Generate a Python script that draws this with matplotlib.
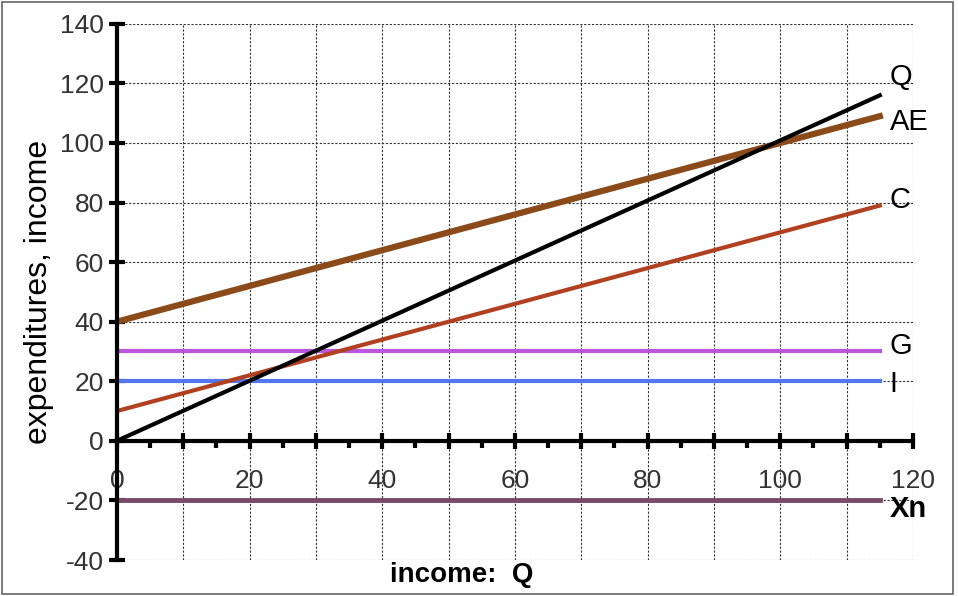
import matplotlib
matplotlib.use("Agg")
import matplotlib.pyplot as plt
import numpy as np

plt.rcParams["font.family"] = ["Liberation Sans", "DejaVu Sans"]
plt.rcParams["axes.unicode_minus"] = False

x = np.array([0, 115])
Q = np.array([0, 116])
AE = np.array([40, 109])
C = np.array([10, 79])
G = np.array([30, 30])
I = np.array([20, 20])
Xn = np.array([-20, -20])
labels = ["Q", "AE", "C", "G", "I", "Xn"]
label_y = [122, 107, 81, 32, 19, -23]

fig = plt.figure(figsize=(9.58, 5.96), dpi=100)
ax = fig.add_axes([0.122, 0.0604, 0.831, 0.8996])
ax.set_xlim(0, 120)
ax.set_ylim(-40, 140)

ax.set_xticks(np.arange(0, 121, 10), minor=False)
ax.set_yticks(np.arange(-40, 141, 20))
ax.grid(True, color="#333333", linestyle=(0, (2, 1.5)), linewidth=0.8)
ax.set_axisbelow(True)

for s in ["top", "right"]:
    ax.spines[s].set_visible(False)
ax.spines["left"].set_linewidth(3)
ax.spines["bottom"].set_position(("data", 0))
ax.spines["bottom"].set_linewidth(3)
ax.tick_params(axis="x", direction="inout", length=12, width=3, labelsize=19, pad=14, colors="black", labelcolor="#333333")
ax.tick_params(axis="y", direction="inout", length=12, width=3, labelsize=19, labelcolor="#333333")
ax.set_xticklabels(["0", "", "20", "", "40", "", "60", "", "80", "", "100", "", "120"])
ax.set_xticks(np.arange(5, 120, 10), minor=True)
ax.tick_params(axis="x", which="minor", direction="out", length=5, width=3)

ax.plot(x, Xn, color="#7a4a6a", lw=3.5)
ax.plot(x, I, color="#5577ee", lw=3)
ax.plot(x, G, color="#bb55dd", lw=3)
ax.plot(x, C, color="#b04020", lw=3)
ax.plot(x, AE, color="#8b4a1a", lw=4.5)
ax.plot(x, Q, color="black", lw=3)

for t, yy in zip(labels, label_y):
    ax.text(116.5, yy, t, fontsize=21, va="center", ha="left", fontweight="bold" if t == "Xn" else "normal")

ax.text(52, -45, "income:  Q", fontsize=20, fontweight="bold", ha="center", va="center", clip_on=False)
ax.set_ylabel("expenditures, income", fontsize=23, labelpad=4)

fig.patches.append(plt.Rectangle((0.002, 0.003), 0.993, 0.994, transform=fig.transFigure,
                                 fill=False, edgecolor="#666666", lw=1.2))
fig.savefig("out.png", dpi=100)
